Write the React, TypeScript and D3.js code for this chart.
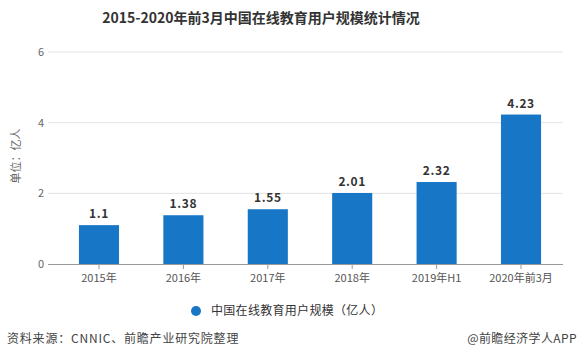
import React from 'react';
import * as d3 from 'd3';

const categories = ['2015年', '2016年', '2017年', '2018年', '2019年H1', '2020年前3月'];
const users = [1.1, 1.38, 1.55, 2.01, 2.32, 4.23];
const yTicks = [0, 2, 4, 6];

const W = 579, H = 364;
const FONT = '"Microsoft YaHei","Noto Sans CJK SC",sans-serif';

export default function App() {
  const x = d3.scaleBand<string>().domain(categories).range([57, 563]).paddingInner(0.525).paddingOuter(0.26);
  const y = d3.scaleLinear().domain([0, 6]).range([264, 52]);
  const bw = x.bandwidth();

  return (
    <svg width={W} height={H} style={{ position: 'absolute', left: 0, top: 0, background: '#fff' }} fontFamily={FONT}>
      <text x={261} y={23} textAnchor="middle" fontSize={14} fontWeight="bold" fill="#333">
        2015-2020年前3月中国在线教育用户规模统计情况
      </text>

      {yTicks.map(t => (
        <g key={t}>
          {t > 0 && <line x1={48} x2={563} y1={y(t)} y2={y(t)} stroke="#e3e3e3" />}
          <text x={44} y={y(t)} dy="0.35em" textAnchor="end" fontSize={11} fill="#666">{t}</text>
        </g>
      ))}

      <text transform="translate(20,156) rotate(-90)" textAnchor="middle" fontSize={11} fill="#666">单位：亿人</text>

      {categories.map((c, i) => (
        <g key={c}>
          <rect x={x(c)} y={y(users[i])} width={bw} height={y(0) - y(users[i])} fill="#1776c6" />
          <text x={x(c)! + bw / 2} y={y(users[i]) - 7} textAnchor="middle" fontSize={12} fontWeight="bold" fill="#333" letterSpacing={0.6}>
            {users[i]}
          </text>
          <line x1={x(c)! + bw / 2} x2={x(c)! + bw / 2} y1={264} y2={269} stroke="#999" />
          <text x={x(c)! + bw / 2} y={282} textAnchor="middle" fontSize={11} fill="#555">{c}</text>
        </g>
      ))}
      <line x1={48} x2={563} y1={264.5} y2={264.5} stroke="#999" />

      <circle cx={196} cy={311} r={5} fill="#1776c6" />
      <text x={211} y={311} dy="0.35em" fontSize={12} fill="#333" letterSpacing={0.3}>中国在线教育用户规模（亿人）</text>

      <text x={7} y={343} fontSize={12} fill="#444" letterSpacing={0.8}>资料来源：CNNIC、前瞻产业研究院整理</text>
      <text x={577} y={343} textAnchor="end" fontSize={12} fill="#444" letterSpacing={0.4}>@前瞻经济学人APP</text>
    </svg>
  );
}
